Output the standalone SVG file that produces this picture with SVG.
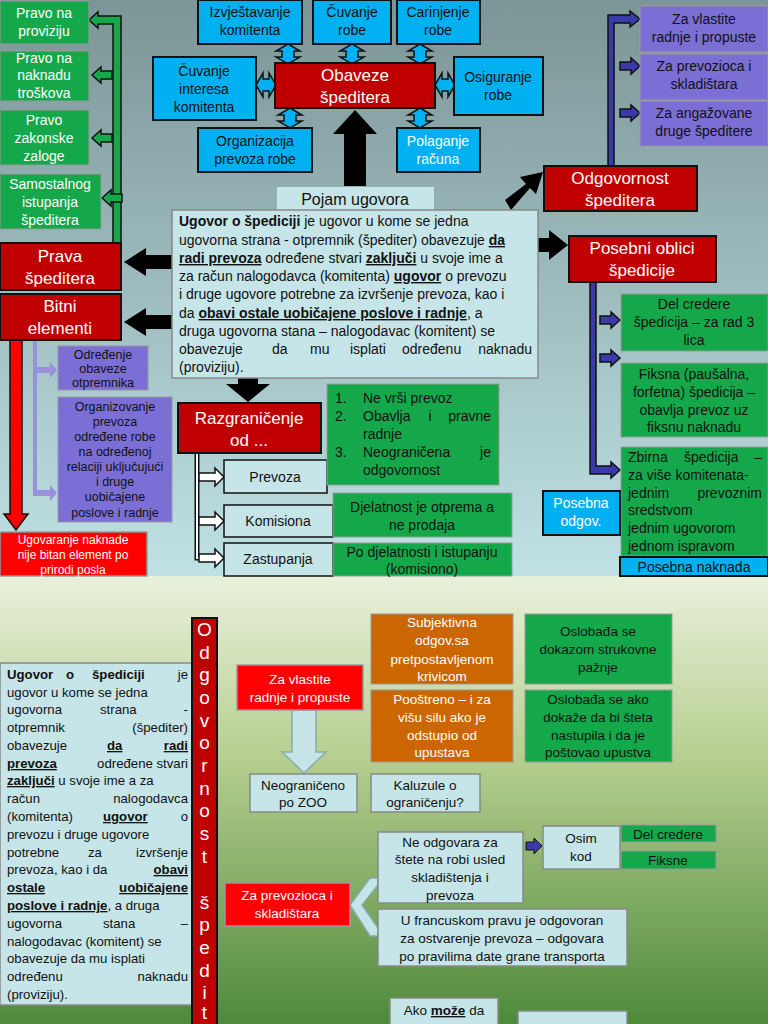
<svg xmlns="http://www.w3.org/2000/svg" width="768" height="1024" viewBox="0 0 768 1024">
<defs>
<linearGradient id="bg1" x1="0" y1="0" x2="0" y2="1"><stop offset="0" stop-color="#7c9597"/><stop offset="1" stop-color="#bfe2e5"/></linearGradient>
<linearGradient id="bg2" x1="0" y1="0" x2="0" y2="1"><stop offset="0" stop-color="#e9f1dc"/><stop offset="0.4" stop-color="#b7cf90"/><stop offset="1" stop-color="#4e8a3a"/></linearGradient>
<path id="dv" d="M0,0 L12,7 L6,7 L6,13 L12,13 L0,20 L-12,13 L-6,13 L-6,7 L-12,7 Z"/>
<path id="gl" d="M0,0 L9,-8 L9,-4 L20,-4 L20,4 L9,4 L9,8 Z"/>
<path id="gr" d="M0,0 L-9,-8 L-9,-4 L-20,-4 L-20,4 L-9,4 L-9,8 Z"/>
<path id="or" d="M0,0 L-9,-9 L-9,-4 L-25,-4 L-25,4 L-9,4 L-9,9 Z"/>
</defs>
<style>
text{font-family:"Liberation Sans",Arial,sans-serif;font-size:14px;text-anchor:middle;fill:#111}
.w{fill:#fff}
.big{font-size:17px;fill:#fff}
.red{fill:#c00000;stroke:#111;stroke-width:2}
.bred{fill:#ff0000;stroke:#999;stroke-width:1.5}
.blu{fill:#00b0f0;stroke:#111;stroke-width:2}
.pur{fill:#7b6fd6;stroke:#999;stroke-width:1}
.lb{fill:#c6e5e8;stroke:#888;stroke-width:1.5}
.lbk{fill:#c6e5e8;stroke:#111;stroke-width:1.5}
.grn{fill:#14a84a;stroke:#999;stroke-width:1}
.org{fill:#cc6600;stroke:#999;stroke-width:1}
.ab{fill:#00b0f0;stroke:#111;stroke-width:1.5}
.ag{fill:#14a84a;stroke:#111;stroke-width:1.5}
.ad{fill:#3a3aa8;stroke:#111;stroke-width:1.5}
.ap{fill:#9a90e0;stroke:none}
.aw{fill:#fff;stroke:#111;stroke-width:1.5}
.al{fill:#c6e5e8;stroke:#8aa;stroke-width:1.5}
.j{text-anchor:start}
.e{text-anchor:end}
.b{font-weight:bold}
.u{font-weight:bold;text-decoration:underline}
.s{font-size:13.5px}
.t{font-size:13.2px}
.p{font-size:12.5px}
.v{font-size:19px;fill:#fff}
</style>
<rect x="0" y="0" width="768" height="576" fill="url(#bg1)"/>
<rect x="0" y="576" width="768" height="448" fill="url(#bg2)"/>

<g id="connectors">
<path class="ag" d="M113,243 L113,24 L98,24 L98,28 L89,20 L98,12 L98,16 L121,16 L121,243 Z"/>
<use href="#gl" x="92" y="75" class="ag"/>
<use href="#gl" x="92" y="138" class="ag"/>
<use href="#gl" x="102" y="198" class="ag"/>
<path fill="#000" d="M124,262 L146,248 L146,255 L172,255 L172,269 L146,269 L146,276 Z"/>
<path fill="#000" d="M124,322 L146,308 L146,315 L172,315 L172,329 L146,329 L146,336 Z"/>
<path fill="#000" d="M355,110 L377,134 L366,134 L366,186 L344,186 L344,134 L333,134 Z"/>
<path fill="#000" d="M248,402 L226,384 L238,384 L238,378 L258,378 L258,384 L270,384 Z"/>
<path fill="#000" d="M505,200 L526,184 L520,177 L543,172 L536,194 L530,188 L511,210 Z"/>
<path fill="#000" d="M568,245 L549,230 L549,238 L538,238 L538,252 L549,252 L549,260 Z"/>
<path fill="#ff0000" stroke="#111" stroke-width="1.5" d="M10,340 L22,340 L22,514 L28,514 L16,530 L4,514 L10,514 Z"/>
<path class="ap" d="M33,340 L37,340 L37,367 L50,367 L50,362 L57,370 L50,378 L50,373 L37,373 L37,490 L50,490 L50,485 L57,493 L50,501 L50,496 L33,496 Z"/>
<use href="#dv" x="288" y="44" class="ab"/>
<use href="#dv" x="352" y="44" class="ab"/>
<use href="#dv" x="420" y="44" class="ab"/>
<use href="#dv" x="290" y="108" class="ab"/>
<use href="#dv" x="420" y="108" class="ab"/>
<use href="#dv" transform="translate(256,85) rotate(-90)" class="ab"/>
<use href="#dv" transform="translate(435,85) rotate(-90)" class="ab"/>
<path class="ad" d="M608,166 L608,15 L630,15 L630,11 L640,19 L630,27 L630,23 L614,23 L614,166 Z"/>
<use href="#gr" x="640" y="66" class="ad"/>
<use href="#gr" x="640" y="113" class="ad"/>
<path class="ad" d="M590,282 L596,282 L596,466 L611,466 L611,462 L620,470 L611,478 L611,474 L590,474 Z"/>
<use href="#gr" x="620" y="320" class="ad"/>
<use href="#gr" x="620" y="358" class="ad"/>
<path fill="none" stroke="#111" stroke-width="5" d="M197,453 L197,558 L210,558"/>
<path fill="none" stroke="#fff" stroke-width="2" d="M197,453 L197,558 L210,558"/>
<use href="#or" x="224" y="477" class="aw"/>
<use href="#or" x="224" y="521" class="aw"/>
<use href="#or" x="224" y="558" class="aw"/>
<path class="al" d="M292,710 L316,710 L316,752 L326,752 L304,773 L282,752 L292,752 Z"/>
<path fill="#3a3aa8" stroke="#111" stroke-width="1" d="M526,842 L534,842 L534,838 L542,846 L534,854 L534,850 L526,850 Z"/>
<path class="al" d="M350,905 L370,878 L378,878 L378,885 L362,905 L378,928 L378,936 L370,936 Z"/>
</g>

<g id="pravo-provizija"><rect class="grn" x="0" y="1" width="89" height="43"/><text class="w" x="44" y="18">Pravo na</text><text class="w" x="44" y="36">proviziju</text></g>
<g id="pravo-naknada"><rect class="grn" x="0" y="51" width="89" height="50"/><text class="w" x="44" y="63">Pravo na</text><text class="w" x="44" y="80">naknadu</text><text class="w" x="44" y="98">troškova</text></g>
<g id="pravo-zaloga"><rect class="grn" x="0" y="110" width="89" height="55"/><text class="w" x="44" y="125">Pravo</text><text class="w" x="44" y="143">zakonske</text><text class="w" x="44" y="161">zaloge</text></g>
<g id="samostalnog"><rect class="grn" x="0" y="174" width="101" height="55"/><text class="w" x="50" y="189">Samostalnog</text><text class="w" x="50" y="207">istupanja</text><text class="w" x="50" y="225">špeditera</text></g>
<g id="prava"><rect class="red" x="0" y="243" width="121" height="47"/><text class="big" x="60" y="262">Prava</text><text class="big" x="60" y="284">špeditera</text></g>
<g id="bitni"><rect class="red" x="0" y="294" width="121" height="46"/><text class="big" x="60" y="312">Bitni</text><text class="big" x="60" y="334">elementi</text></g>
<g id="odredjenje"><rect class="pur" x="58" y="346" width="90" height="44"/><text class="p" x="103" y="359">Određenje</text><text class="p" x="103" y="373">obaveze</text><text class="p" x="103" y="387">otpremnika</text></g>
<g id="organizovanje"><rect class="pur" x="58" y="397" width="114" height="125"/>
<text class="p" x="115" y="411">Organizovanje</text><text class="p" x="115" y="426">prevoza</text><text class="p" x="115" y="441">određene robe</text><text class="p" x="115" y="456">na određenoj</text><text class="p" x="115" y="471">relaciji uključujući</text><text class="p" x="115" y="486">i druge</text><text class="p" x="115" y="501">uobičajene</text><text class="p" x="115" y="517">poslove i radnje</text></g>
<g id="ugovaranje"><rect class="bred" x="0" y="532" width="147" height="44"/><text class="w" x="73" y="544" style="font-size:12px">Ugovaranje naknade</text><text class="w" x="73" y="559" style="font-size:12px">nije bitan element po</text><text class="w" x="73" y="574" style="font-size:12px">prirodi posla</text></g>

<g id="izvjestavanje"><rect class="blu" x="198" y="0" width="104" height="44"/><text x="250" y="17">Izvještavanje</text><text x="250" y="35">komitenta</text></g>
<g id="cuvanje-robe"><rect class="blu" x="313" y="0" width="78" height="44"/><text x="352" y="17">Čuvanje</text><text x="352" y="35">robe</text></g>
<g id="carinjenje"><rect class="blu" x="397" y="0" width="83" height="44"/><text x="438" y="17">Carinjenje</text><text x="438" y="35">robe</text></g>
<g id="cuvanje-interesa"><rect class="blu" x="153" y="57" width="103" height="63"/><text x="204" y="76">Čuvanje</text><text x="204" y="94">interesa</text><text x="204" y="112">komitenta</text></g>
<g id="obaveze"><rect class="red" x="275" y="63" width="160" height="45"/><text class="big" x="355" y="81">Obaveze</text><text class="big" x="355" y="103">špeditera</text></g>
<g id="osiguranje"><rect class="blu" x="454" y="57" width="89" height="58"/><text x="498" y="82">Osiguranje</text><text x="498" y="100">robe</text></g>
<g id="organizacija"><rect class="blu" x="198" y="128" width="114" height="44"/><text x="255" y="146">Organizacija</text><text x="255" y="164">prevoza robe</text></g>
<g id="polaganje"><rect class="blu" x="397" y="128" width="83" height="44"/><text class="w" x="438" y="146">Polaganje</text><text class="w" x="438" y="164">računa</text></g>

<g id="pojam"><rect fill="#c6e5e8" x="277" y="187" width="157" height="23"/><text x="355" y="205" style="font-size:16px">Pojam ugovora</text></g>
<g id="ugovor"><rect class="lb" x="172" y="210" width="366" height="168"/>
<text class="j" x="179" y="226"><tspan class="b">Ugovor o špediciji</tspan> je ugovor u kome se jedna</text>
<text class="j" x="179" y="245">ugovorna strana - otpremnik (špediter) obavezuje <tspan class="u">da</tspan></text>
<text class="j" x="179" y="263"><tspan class="u">radi prevoza</tspan> određene stvari <tspan class="u">zaključi</tspan> u svoje ime a</text>
<text class="j" x="179" y="281">za račun nalogodavca (komitenta) <tspan class="u">ugovor</tspan> o prevozu</text>
<text class="j" x="179" y="299">i druge ugovore potrebne za izvršenje prevoza, kao i</text>
<text class="j" x="179" y="318">da <tspan class="u">obavi ostale uobičajene poslove i radnje</tspan>, a</text>
<text class="j" x="179" y="336">druga ugovorna stana – nalogodavac (komitent) se</text>
<text class="j" x="179" y="354">obavezuje</text><text class="j" x="272" y="354">da</text><text class="j" x="310" y="354">mu</text><text class="j" x="350" y="354">isplati</text><text class="j" x="402" y="354">određenu</text><text class="e" x="532" y="354">naknadu</text>
<text class="j" x="179" y="372">(proviziju).</text></g>

<g id="razgranicenje"><rect class="red" x="178" y="403" width="143" height="50"/><text class="big" x="249" y="424">Razgraničenje</text><text class="big" x="249" y="446">od ...</text></g>
<g id="prevoza"><rect class="lbk" x="224" y="460" width="103" height="33"/><text x="275" y="482">Prevoza</text></g>
<g id="komisiona"><rect class="lbk" x="224" y="505" width="109" height="32"/><text x="278" y="526">Komisiona</text></g>
<g id="zastupanja"><rect class="lbk" x="224" y="543" width="109" height="33"/><text x="278" y="564">Zastupanja</text></g>
<g id="lista"><rect class="grn" x="327" y="384" width="172" height="101"/>
<text class="j" x="335" y="403">1.</text><text class="j" x="363" y="403">Ne vrši prevoz</text>
<text class="j" x="335" y="421">2.</text><text class="j" x="363" y="421">Obavlja</text><text x="430" y="421">i</text><text class="e" x="491" y="421">pravne</text><text class="j" x="363" y="439">radnje</text>
<text class="j" x="335" y="457">3.</text><text class="j" x="363" y="457">Neograničena</text><text class="e" x="491" y="457">je</text><text class="j" x="363" y="475">odgovornost</text></g>
<g id="djelatnost"><rect class="grn" x="333" y="493" width="179" height="44"/><text x="422" y="512">Djelatnost je otprema a</text><text x="422" y="530">ne prodaja</text></g>
<g id="po-djelatnosti"><rect class="grn" x="333" y="543" width="179" height="33"/><text x="422" y="557">Po djelatnosti i istupanju</text><text x="422" y="574">(komisiono)</text></g>

<g id="odgovornost"><rect class="red" x="544" y="166" width="153" height="45"/><text class="big" x="620" y="184">Odgovornost</text><text class="big" x="620" y="206">špeditera</text></g>
<g id="vlastite"><rect class="pur" x="640" y="6" width="128" height="46"/><text x="704" y="24">Za vlastite</text><text x="704" y="42">radnje i propuste</text></g>
<g id="prevozioca"><rect class="pur" x="640" y="54" width="128" height="46"/><text x="704" y="71">Za prevozioca i</text><text x="704" y="89">skladištara</text></g>
<g id="angazovane"><rect class="pur" x="640" y="101" width="128" height="45"/><text x="704" y="118">Za angažovane</text><text x="704" y="136">druge špeditere</text></g>
<g id="posebni"><rect class="red" x="569" y="236" width="147" height="46"/><text class="big" x="642" y="254">Posebni oblici</text><text class="big" x="642" y="276">špedicije</text></g>
<g id="del-credere"><rect class="grn" x="621" y="294" width="147" height="57"/><text x="694" y="309">Del credere</text><text x="694" y="327">špedicija – za rad 3</text><text x="694" y="345">lica</text></g>
<g id="fiksna"><rect class="grn" x="621" y="363" width="147" height="74"/><text x="694" y="379">Fiksna (paušalna,</text><text x="694" y="397">forfetna) špedicija –</text><text x="694" y="415">obavlja prevoz uz</text><text x="694" y="432">fiksnu naknadu</text></g>
<g id="zbirna"><rect class="grn" x="621" y="447" width="147" height="109"/>
<text class="j" x="628" y="462">Zbirna</text><text class="j" x="684" y="462">špedicija</text><text class="e" x="762" y="462">–</text>
<text class="j" x="628" y="480">za više komitenata-</text>
<text class="j" x="628" y="498">jednim</text><text class="e" x="762" y="498">prevoznim</text>
<text class="j" x="628" y="515">sredstvom</text>
<text class="j" x="628" y="533">jednim ugovorom</text>
<text class="j" x="628" y="551">jednom ispravom</text></g>
<g id="posebna-odgov"><rect class="blu" x="543" y="491" width="77" height="44"/><text class="w" x="581" y="508">Posebna</text><text class="w" x="581" y="526">odgov.</text></g>
<g id="posebna-naknada"><rect class="blu" x="620" y="557" width="148" height="19"/><text x="694" y="572">Posebna naknada</text></g>

<g id="ugovor2"><rect class="lb" x="0" y="663" width="195" height="342"/>
<text class="j t b" x="7" y="679">Ugovor</text><text class="j t b" x="66" y="679">o</text><text class="j t b" x="92" y="679">špediciji</text><text class="e t" x="188" y="679">je</text>
<text class="j t" x="7" y="697">ugovor u kome se jedna</text>
<text class="j t" x="7" y="714">ugovorna</text><text class="j t" x="100" y="714">strana</text><text class="e t" x="188" y="714">-</text>
<text class="j t" x="7" y="732">otpremnik</text><text class="e t" x="188" y="732">(špediter)</text>
<text class="j t" x="7" y="750">obavezuje</text><text class="j t u" x="107" y="750">da</text><text class="e t u" x="188" y="750">radi</text>
<text class="j t" x="7" y="768"><tspan class="u">prevoza</tspan></text><text class="e t" x="188" y="768">određene stvari</text>
<text class="j t" x="7" y="785"><tspan class="u">zaključi</tspan> u svoje ime a za</text>
<text class="j t" x="7" y="803">račun</text><text class="e t" x="188" y="803">nalogodavca</text>
<text class="j t" x="7" y="821">(komitenta)</text><text class="j t u" x="103" y="821">ugovor</text><text class="e t" x="188" y="821">o</text>
<text class="j t" x="7" y="839">prevozu i druge ugovore</text>
<text class="j t" x="7" y="857">potrebne</text><text class="j t" x="88" y="857">za</text><text class="e t" x="188" y="857">izvršenje</text>
<text class="j t" x="7" y="874">prevoza, kao i da</text><text class="e t u" x="188" y="874">obavi</text>
<text class="j t u" x="7" y="892">ostale</text><text class="e t u" x="188" y="892">uobičajene</text>
<text class="j t" x="7" y="910"><tspan class="u">poslove i radnje</tspan>, a druga</text>
<text class="j t" x="7" y="928">ugovorna</text><text class="j t" x="103" y="928">stana</text><text class="e t" x="188" y="928">–</text>
<text class="j t" x="7" y="946">nalogodavac (komitent) se</text>
<text class="j t" x="7" y="963">obavezuje da mu isplati</text>
<text class="j t" x="7" y="981">određenu</text><text class="e t" x="188" y="981">naknadu</text>
<text class="j t" x="7" y="999">(proviziju).</text></g>

<g id="odgovornost-bar"><rect fill="#c00000" stroke="#111" stroke-width="2" x="192" y="618" width="25" height="410"/>
<text class="v" x="204.5" y="636">O</text><text class="v" x="204.5" y="659">d</text><text class="v" x="204.5" y="681">g</text><text class="v" x="204.5" y="704">o</text><text class="v" x="204.5" y="727">v</text><text class="v" x="204.5" y="749">o</text><text class="v" x="204.5" y="772">r</text><text class="v" x="204.5" y="795">n</text><text class="v" x="204.5" y="817">o</text><text class="v" x="204.5" y="840">s</text><text class="v" x="204.5" y="863">t</text><text class="v" x="204.5" y="909">š</text><text class="v" x="204.5" y="931">p</text><text class="v" x="204.5" y="954">e</text><text class="v" x="204.5" y="977">d</text><text class="v" x="204.5" y="999">i</text><text class="v" x="204.5" y="1019">t</text></g>

<g id="za-vlastite"><rect class="bred" x="237" y="665" width="126" height="45"/><text class="w s" x="300" y="684">Za vlastite</text><text class="w s" x="300" y="702">radnje i propuste</text></g>
<g id="neograniceno"><rect class="lb" x="250" y="774" width="107" height="38"/><text class="s" x="303" y="790">Neograničeno</text><text class="s" x="303" y="807">po ZOO</text></g>
<g id="kaluzule"><rect class="lb" x="371" y="774" width="109" height="38"/><text class="s" x="425" y="790">Kaluzule o</text><text class="s" x="425" y="807">ograničenju?</text></g>
<g id="subjektivna"><rect class="org" x="371" y="614" width="142" height="70"/><text class="w s" x="442" y="627">Subjektivna</text><text class="w s" x="442" y="645">odgov.sa</text><text class="w s" x="442" y="664">pretpostavljenom</text><text class="w s" x="442" y="681">krivicom</text></g>
<g id="postreno"><rect class="org" x="371" y="690" width="142" height="72"/><text class="w s" x="442" y="704">Pooštreno – i za</text><text class="w s" x="442" y="722">višu silu ako je</text><text class="w s" x="442" y="740">odstupio od</text><text class="w s" x="442" y="757">upustava</text></g>
<g id="oslobadja1"><rect class="grn" x="525" y="614" width="147" height="70"/><text class="s" x="598" y="636">Oslobađa se</text><text class="s" x="598" y="654">dokazom strukovne</text><text class="s" x="598" y="672">pažnje</text></g>
<g id="oslobadja2"><rect class="grn" x="525" y="690" width="147" height="72"/><text class="s" x="598" y="704">Oslobađa se ako</text><text class="s" x="598" y="722">dokaže da bi šteta</text><text class="s" x="598" y="740">nastupila i da je</text><text class="s" x="598" y="757">poštovao upustva</text></g>
<g id="ne-odgovara"><rect class="lb" x="378" y="832" width="145" height="71"/><text class="s" x="450" y="847">Ne odgovara za</text><text class="s" x="450" y="864">štete na robi usled</text><text class="s" x="450" y="882">skladištenja i</text><text class="s" x="450" y="900">prevoza</text></g>
<g id="osim"><rect class="lb" x="543" y="826" width="77" height="43"/><text class="s" x="581" y="843">Osim</text><text class="s" x="581" y="861">kod</text></g>
<g id="del-credere2"><rect class="grn" x="621" y="825" width="95" height="17"/><text class="s" x="668" y="839">Del credere</text></g>
<g id="fiksne"><rect class="grn" x="621" y="851" width="95" height="18"/><text class="s" x="668" y="865">Fiksne</text></g>
<g id="za-prevozioca"><rect class="bred" x="225" y="883" width="125" height="43"/><text class="w s" x="287" y="900">Za prevozioca i</text><text class="w s" x="287" y="918">skladištara</text></g>
<g id="francuski"><rect class="lb" x="378" y="909" width="249" height="57"/><text class="s" x="502" y="925">U francuskom pravu je odgovoran</text><text class="s" x="502" y="943">za ostvarenje prevoza – odgovara</text><text class="s" x="502" y="961">po pravilima date grane transporta</text></g>
<g id="ako-moze"><rect class="lb" x="390" y="998" width="108" height="30"/><text class="s" x="444" y="1015">Ako <tspan class="u">može</tspan> da</text></g>
<g id="prazna"><rect class="lb" x="518" y="1011" width="109" height="17"/></g>
</svg>
